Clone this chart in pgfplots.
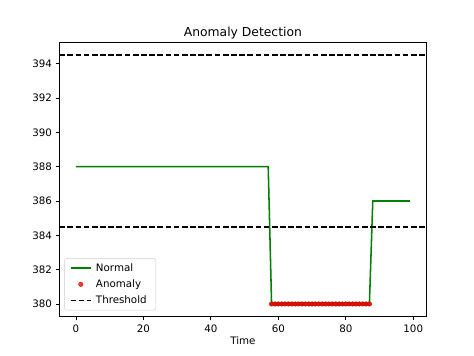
\documentclass[border=0pt]{standalone}
\usepackage{pgfplots}
\pgfplotsset{compat=1.18}
\usepackage{fontspec}
\setmainfont{DejaVu Sans}
\definecolor{mplgreen}{HTML}{008000}
\definecolor{mplred}{HTML}{E01000}
\pgfplotsset{
  lineleg/.style={legend image code/.code={\draw[mplgreen, line width=1.5pt] (0pt,0pt) -- (20pt,0pt);}},
  dashleg/.style={legend image code/.code={\draw[black, line width=1.5pt, dash pattern=on 5.55pt off 2.4pt] (0pt,0pt) -- (20pt,0pt);}},
  dotleg/.style={legend image code/.code={\path (0pt,0pt) (20pt,0pt); \fill[mplred] (10pt,0pt) circle (2.2pt);}},
}
\begin{document}
\begin{tikzpicture}
\useasboundingbox (0,0) rectangle (460.8pt,345.6pt);
\begin{axis}[
  at={(57.6pt,38.0pt)}, anchor=south west,
  scale only axis, width=357.1pt, height=266.1pt,
  xmin=-4.95, xmax=103.95, ymin=379.275, ymax=395.225,
  xtick={0,20,...,100}, ytick={380,382,...,394},
  tick align=outside, tick pos=left, major tick length=3.5pt,
  every tick/.style={black, line width=0.8pt},
  axis line style={line width=0.8pt},
  /pgf/number format/assume math mode=true,
  /pgf/number format/set thousands separator={},
  ticklabel style={font=\fontsize{10}{12}\selectfont},
  xticklabel style={yshift=-1pt},
  title={Anomaly Detection},
  title style={font=\fontsize{12}{14}\selectfont, at={(0.5,1)}, anchor=base, yshift=0pt},
  xlabel={Time},
  xlabel style={font=\fontsize{10}{12}\selectfont, yshift=3pt},
  legend cell align=left,
  legend style={at={(0.014,0.022)}, anchor=south west, draw=black!20,
    rounded corners=2pt, fill=white, fill opacity=0.8, text opacity=1,
    font=\fontsize{10}{12}\selectfont, inner xsep=5pt, inner ysep=3pt,
    row sep=2.5pt, nodes={inner xsep=4pt}},
]
\addplot[mplgreen, line width=1.5pt, lineleg] coordinates {
  (0,388) (57,388) (58,380) (87,380) (88,386) (99,386)};
\addlegendentry{Normal}
\addplot[only marks, mark=*, mark size=2.2pt, mplred, mark options={draw=mplred!85!black, fill=mplred}, dotleg] coordinates {
  (58,380) (59,380) (60,380) (61,380) (62,380) (63,380) (64,380) (65,380) (66,380) (67,380)
  (68,380) (69,380) (70,380) (71,380) (72,380) (73,380) (74,380) (75,380) (76,380) (77,380)
  (78,380) (79,380) (80,380) (81,380) (82,380) (83,380) (84,380) (85,380) (86,380) (87,380)};
\addlegendentry{Anomaly}
\addplot[black, line width=1.5pt, dash pattern=on 5.55pt off 2.4pt, dashleg] coordinates {(-4.95,384.5) (103.95,384.5)};
\addlegendentry{Threshold}
\addplot[black, line width=1.5pt, dash pattern=on 5.55pt off 2.4pt, forget plot] coordinates {(-4.95,394.5) (103.95,394.5)};
\end{axis}
\end{tikzpicture}
\end{document}
